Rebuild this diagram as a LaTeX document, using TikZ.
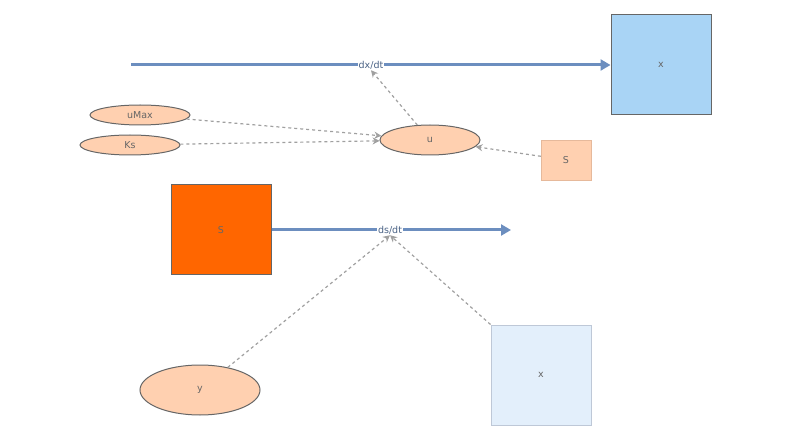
\documentclass[tikz,border=0pt]{standalone}
\usepackage{fontspec}
\setmainfont{DejaVu Sans}
\usetikzlibrary{shapes.geometric,arrows.meta}
\definecolor{flow}{HTML}{6C8EBF}
\definecolor{dash}{HTML}{A0A0A0}
\definecolor{edge}{HTML}{666666}
\definecolor{peach}{HTML}{FFD0B0}
\begin{document}
\begin{tikzpicture}[x=1pt,y=-1pt,
  every node/.style={font=\fontsize{9.5}{11}\selectfont, text=edge},
  box/.style={draw=edge, line width=1pt, minimum width=100pt, minimum height=100pt, inner sep=0},
  ell/.style={ellipse, draw=edge, line width=1pt, fill=peach, inner sep=0},
  flowa/.style={draw=flow, line width=3pt, -{Triangle[length=10pt,width=11pt]}},
  dl/.style={draw=dash, dashed, line width=1.2pt, -{Stealth[length=7pt,width=7pt]}},
  lab/.style={fill=white, inner sep=1pt, text=flow!70!black}]
\useasboundingbox (0,0) rectangle (800,438);
\node[box, fill={rgb,255:red,169;green,212;blue,245}] (X) at (661,65) {x};
\coordinate (s1) at (131,65);
\draw[flowa] (s1) -- (X.west);
\node[lab] (dxl) at (371,65) {dx/dt};
\node[ell, minimum width=100pt, minimum height=20pt] (umax) at (140,115) {uMax};
\node[ell, minimum width=100pt, minimum height=20pt] (ks) at (130,145) {Ks};
\node[ell, minimum width=100pt, minimum height=30pt] (u) at (430,140) {u};
\node[draw={rgb,255:red,230;green,185;blue,155}, fill=peach, minimum width=50pt, minimum height=40pt, inner sep=0] (S1) at (566,160) {S};
\draw[dl] (umax) -- (u);
\draw[dl] (ks) -- (u);
\draw[dl] (S1) -- (u);
\draw[dl] (u) -- (dxl.south);
\node[box, fill={rgb,255:red,255;green,102;blue,0}, minimum height=90pt] (S) at (221,230) {S};
\coordinate (e2) at (511,230);
\draw[flowa] (S.east) -- (e2);
\node[lab] (dsl) at (390,230) {ds/dt};
\node[ell, minimum width=120pt, minimum height=50pt] (y) at (200,390) {y};
\node[box, draw={rgb,255:red,190;green,200;blue,215}, fill={rgb,255:red,227;green,239;blue,251}] (X2) at (541,375) {x};
\draw[dl] (y) -- (dsl.south);
\draw[dl] (X2.north west) -- (dsl.south);
\end{tikzpicture}
\end{document}
